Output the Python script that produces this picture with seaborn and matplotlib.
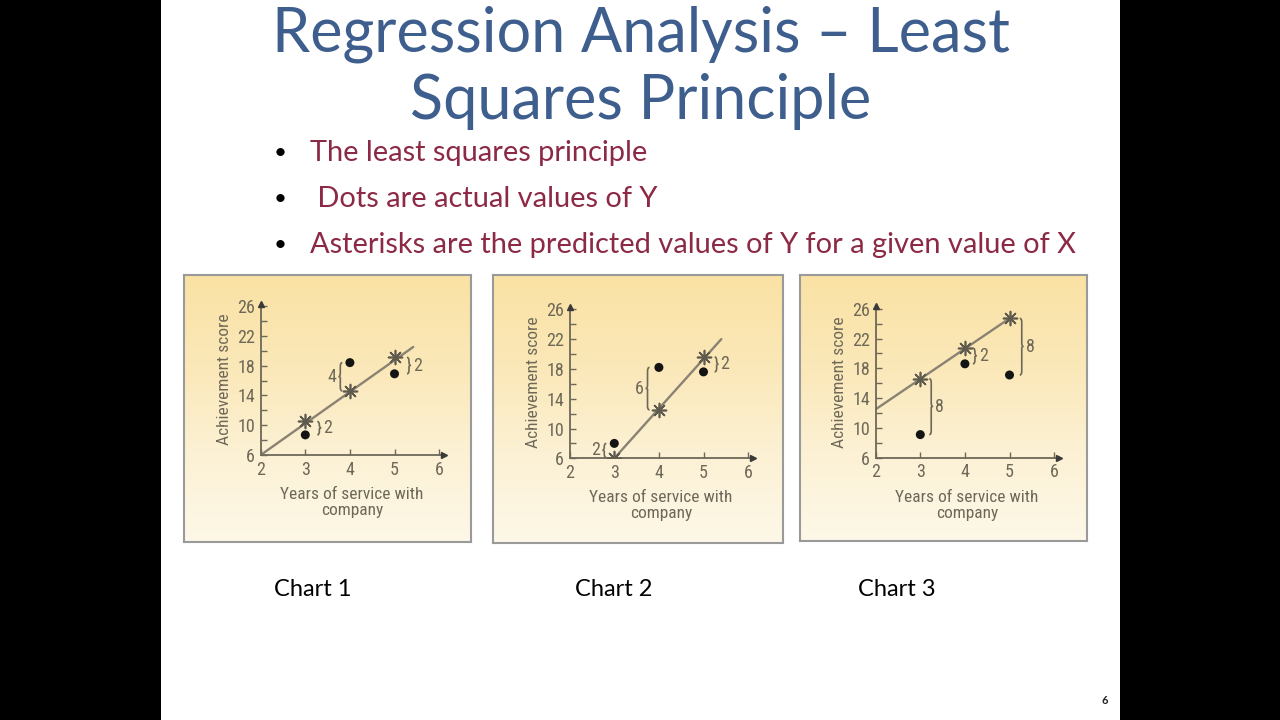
import numpy as np
import pandas as pd
import matplotlib
matplotlib.use("Agg")
import matplotlib.pyplot as plt
from matplotlib import font_manager
from matplotlib.patches import PathPatch
from matplotlib.path import Path
from matplotlib.colors import LinearSegmentedColormap
import seaborn as sns

# ---------------- data ----------------
years = [3, 4, 5]
chart1_actual = [8.7, 18.4, 16.9]
chart1_pred = [10.5, 14.6, 19.1]
chart1_line_x = [2.0, 5.42]
chart1_line_y = [6.0, 20.5]
chart1_labels = ["2", "4", "2"]

chart2_actual = [8.0, 18.2, 17.6]
chart2_pred = [6.1, 12.5, 19.6]
chart2_line_x = [3.0, 5.4]
chart2_line_y = [6.0, 22.0]
chart2_labels = ["2", "6", "2"]

chart3_actual = [9.1, 18.6, 17.1]
chart3_pred = [16.6, 20.7, 24.7]
chart3_line_x = [2.0, 5.0]
chart3_line_y = [12.5, 24.7]
chart3_labels = ["8", "2", "8"]

y_ticks = [6, 10, 14, 18, 22, 26]
x_ticks = [2, 3, 4, 5, 6]
chart_names = ["Chart 1", "Chart 2", "Chart 3"]
bullets = ["The least squares principle",
           " Dots are actual values of Y",
           "Asterisks are the predicted values of Y for a given value of X"]
title_lines = ["Regression Analysis \u2013 Least", "Squares Principle"]

# ---------------- layout / style ----------------
sns.set_theme(style="white")

def has_font(name):
    try:
        font_manager.findfont(font_manager.FontProperties(family=name), fallback_to_default=False)
        return True
    except Exception:
        return False

def find_narrow():
    prefer = ["Liberation Sans Narrow", "Arial Narrow", "Roboto Condensed"]
    for f in font_manager.fontManager.ttflist:
        if f.name in prefer and f.style == "normal" and f.weight in (400, "normal", "regular"):
            return font_manager.FontProperties(fname=f.fname)
    for f in font_manager.fontManager.ttflist:
        if f.name in ("DejaVu Sans", "Noto Sans", "Open Sans", "Roboto", "Liberation Sans") \
                and "condensed" in str(f.stretch) and f.style == "normal" \
                and f.weight in (400, "normal", "regular", "book"):
            return font_manager.FontProperties(fname=f.fname)
    return font_manager.FontProperties(family="Liberation Sans")

narrow_fp = find_narrow()
body_font = "Lato" if has_font("Lato") else "DejaVu Sans"
plt.rcParams['font.family'] = [body_font, 'DejaVu Sans']

W, H = 1280, 720
fig = plt.figure(figsize=(12.8, 7.2), dpi=100)
fig.patch.set_facecolor("black")

def fx(px):
    return px / W

def fy(py):
    return 1 - py / H

# white slide
slide = fig.add_axes([fx(161), 0, fx(1120 - 161), 1])
slide.set_facecolor("white")
slide.set_xticks([]); slide.set_yticks([])
for s in slide.spines.values():
    s.set_visible(False)
slide.set_xlim(0, 1); slide.set_ylim(0, 1)

title_color = "#3e5e8e"
bullet_color = "#8c2a45"
for i, t in enumerate(title_lines):
    fig.text(fx(641), fy(34 + 68 * i), t, ha="center", va="center", fontsize=44,
             color=title_color, fontweight="normal", family=[body_font, "DejaVu Sans"])
for i, b in enumerate(bullets):
    yy = fy(153 + 46 * i)
    fig.text(fx(274), yy, "\u2022", ha="left", va="center", fontsize=16, color="black")
    fig.text(fx(310), yy, b, ha="left", va="center", fontsize=20.9, color=bullet_color)

panel_boxes = [(184, 275, 471, 542), (493, 275, 783, 543), (800, 275, 1087, 541)]
axes_origin = [(260.7, 455.0), (569.7, 458.3), (875.7, 457.7)]
px_per_x = 44.6
px_per_y = 7.45
XMAX, YMAX = 6.1, 26.3

brace_x = [[3.27, 3.83, 5.28], [2.82, 3.79, 5.25], [3.2, 4.18, 5.23]]
brace_dir = [[1, -1, 1], [-1, -1, 1], [1, 1, 1]]

gray = "#6d6858"
line_col = "#8a8272"

def draw_brace(ax, x, y0, y1, d, w=0.09, color=gray):
    lo, hi = min(y0, y1), max(y0, y1)
    ym = (lo + hi) / 2
    r = min(0.5, (hi - lo) / 4)
    xm = x + d * w / 2
    xt = x + d * w
    verts = [(x, hi), (xm, hi), (xm, hi - r),
             (xm, ym + r),
             (xm, ym), (xt, ym),
             (xm, ym), (xm, ym - r),
             (xm, lo + r),
             (xm, lo), (x, lo)]
    codes = [Path.MOVETO, Path.CURVE3, Path.CURVE3,
             Path.LINETO,
             Path.CURVE3, Path.CURVE3,
             Path.MOVETO, Path.CURVE3,
             Path.LINETO,
             Path.CURVE3, Path.CURVE3]
    ax.add_patch(PathPatch(Path(verts, codes), fill=False, edgecolor=color, lw=1.2,
                           clip_on=False, zorder=4))
    return xt, ym

charts = [
    (chart1_actual, chart1_pred, chart1_line_x, chart1_line_y, chart1_labels),
    (chart2_actual, chart2_pred, chart2_line_x, chart2_line_y, chart2_labels),
    (chart3_actual, chart3_pred, chart3_line_x, chart3_line_y, chart3_labels),
]

grad = np.linspace(0, 1, 256).reshape(-1, 1)
panel_cmap = LinearSegmentedColormap.from_list(
    "panel", ["#fae2a4", "#fbe8b8", "#fcf1d4", "#fdf8e8"])

def nfp(size):
    p = narrow_fp.copy()
    p.set_size(size)
    return p

for k, (actual, pred, lx, ly, labels) in enumerate(charts):
    x0, y0, x1, y1 = panel_boxes[k]
    pax = fig.add_axes([fx(x0), fy(y1), fx(x1 - x0), (y1 - y0) / H])
    pax.imshow(grad, aspect="auto", cmap=panel_cmap, extent=[0, 1, 0, 1], origin="upper")
    pax.set_xticks([]); pax.set_yticks([])
    for s in pax.spines.values():
        s.set_edgecolor("#9a9a9a")
        s.set_linewidth(1.5)

    ox, oy = axes_origin[k]
    wpx = (XMAX - 2) * px_per_x
    hpx = (YMAX - 6) * px_per_y
    ax = fig.add_axes([fx(ox), fy(oy), wpx / W, hpx / H])
    ax.set_facecolor("none")
    ax.set_xlim(2, XMAX)
    ax.set_ylim(6, YMAX)

    df_line = pd.DataFrame({"x": lx, "y": ly})
    sns.lineplot(data=df_line, x="x", y="y", ax=ax, color=line_col, lw=1.7, zorder=2)
    df_a = pd.DataFrame({"x": years, "y": actual})
    sns.scatterplot(data=df_a, x="x", y="y", ax=ax, color="#141414", s=42,
                    edgecolor="none", zorder=5)
    df_p = pd.DataFrame({"x": years, "y": pred})
    sns.scatterplot(data=df_p, x="x", y="y", ax=ax, marker=(8, 2, 0), s=100,
                    color="#5e5a4e", linewidth=1.2, zorder=5)

    for i in range(3):
        xt, ym = draw_brace(ax, brace_x[k][i], actual[i], pred[i], brace_dir[k][i])
        d = brace_dir[k][i]
        ax.text(xt + d * 0.04, ym, labels[i], ha="left" if d > 0 else "right",
                va="center", fontproperties=nfp(13), color=gray)

    for s in ["top", "right"]:
        ax.spines[s].set_visible(False)
    for s in ["left", "bottom"]:
        ax.spines[s].set_color(gray)
        ax.spines[s].set_linewidth(1.3)
    ax.plot([2], [YMAX], marker="^", color="#3a3a3a", ms=4, clip_on=False, zorder=6)
    ax.plot([XMAX], [6], marker=">", color="#3a3a3a", ms=4, clip_on=False, zorder=6)

    ax.set_yticks(y_ticks)
    ax.set_yticks(np.arange(8, 26, 4), minor=True)
    ax.set_xticks(x_ticks)
    ax.set_xticklabels([str(t) for t in x_ticks])
    ax.set_yticklabels([str(t) for t in y_ticks])
    ax.tick_params(axis="both", which="both", direction="in", colors=gray,
                   labelcolor=gray, length=4, width=1, pad=4,
                   left=True, bottom=True)
    for lab in ax.get_xticklabels() + ax.get_yticklabels():
        lab.set_fontproperties(nfp(13))
    ax.set_xlabel("Years of service with\ncompany", fontproperties=nfp(12.5), color=gray,
                  linespacing=1.1, labelpad=6)
    ax.set_ylabel("Achievement score", fontproperties=nfp(12.5), color=gray,
                  labelpad=4)

    fig.text(fx([274, 575, 858][k]), fy(590), chart_names[k], ha="left", va="center",
             fontsize=17, color="black")

fig.text(fx(1105), fy(701), "6", ha="center", va="center", fontsize=8,
         fontweight="bold", color="#222222")

fig.savefig("out.png", dpi=100, facecolor=fig.get_facecolor())
